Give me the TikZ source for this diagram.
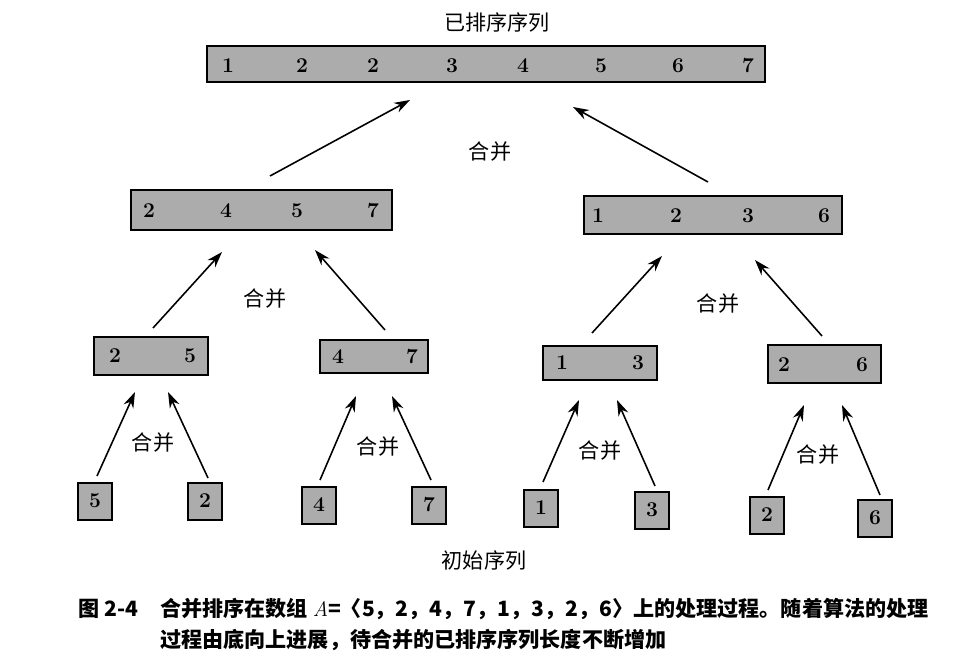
\documentclass[tikz,border=0pt]{standalone}
\usepackage{fontspec}
\newfontfamily\cjk{Noto Sans CJK SC}
\usetikzlibrary{arrows.meta}
\begin{document}
\begin{tikzpicture}[x=0.02cm,y=-0.02cm,
  bar/.style={draw=black,line width=1.2pt,fill=gray!65},
  num/.style={font=\large\bfseries},
  lab/.style={font=\cjk\large},
  captext/.style={font=\cjk\bfseries\fontsize{12}{14}\selectfont,anchor=west,inner sep=0pt},
  arr/.style={-{Stealth[length=9pt,width=6pt]},line width=0.9pt}]
\useasboundingbox (0,0) rectangle (974,665);
\fill[white] (0,0) rectangle (974,665);
% boxes
\draw[bar] (207,46) rectangle (765,82);
\foreach \x/\n in {228/1,302/2,373/2,452/3,523/4,601/5,678/6,748/7} \node[num] at (\x,66) {\n};
\draw[bar] (131,190) rectangle (392,230);
\foreach \x/\n in {149/2,226/4,297/5,373/7} \node[num] at (\x,211) {\n};
\draw[bar] (584,196) rectangle (842,234);
\foreach \x/\n in {598/1,676/2,748/3,824/6} \node[num] at (\x,216) {\n};
\draw[bar] (94,337) rectangle (208,375); \node[num] at (115,356){2}; \node[num] at (190,356){5};
\draw[bar] (320,340) rectangle (428,373); \node[num] at (338,357){4}; \node[num] at (412,357){7};
\draw[bar] (543,346) rectangle (657,380); \node[num] at (562,363){1}; \node[num] at (638,363){3};
\draw[bar] (768,345) rectangle (881,383); \node[num] at (784,365){2}; \node[num] at (862,365){6};
\foreach \x/\y/\n in {78/483/5,188/483/2,302/487/4,412/487/7,524/490/1,635/492/3,750/497/2,858/500/6}{
  \draw[bar] (\x,\y) rectangle ++(34,37); \node[num] at (\x+17,\y+18){\n};}
% arrows
\coordinate (a1) at (270,176); \coordinate (b1) at (410,100);
\coordinate (a2) at (708,182); \coordinate (b2) at (573,107);
\draw[arr] (a1)--(b1); \draw[arr] (a2)--(b2);
\foreach \a/\b/\c/\d in {153/328/222/252,385/330/315/250,592/333/662/256,822/336/755/260,
 97/476/135/392,208/478/168/392,320/480/356/396,431/480/392/396,543/482/579/400,655/486/617/400,768/490/804/405,880/495/842/405}
 \draw[arr] (\a,\b)--(\c,\d);
% labels
\foreach \x/\y in {490/152,265/299,718/304,153/443,378/447,600/451,818/455} \node[lab] at (\x,\y){合并};
\node[lab] at (497,22){已排序序列};
\node[lab] at (484,560){初始序列};
\node[captext] at (78,609){图 2-4};
\node[captext] at (160,609){合并排序在数组 {\rmfamily\mdseries\itshape A}=〈5，2，4，7，1，3，2，6〉上的处理过程。随着算法的处理};
\node[captext] at (160,640){过程由底向上进展，待合并的已排序序列长度不断增加};
\end{tikzpicture}
\end{document}
